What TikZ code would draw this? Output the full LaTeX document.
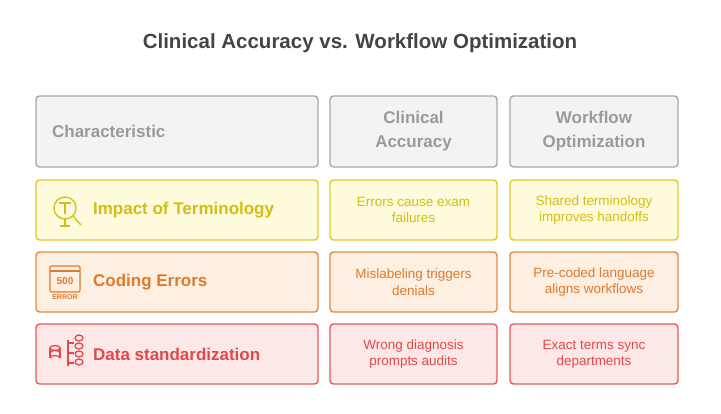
\documentclass[tikz,border=0pt]{standalone}
\usepackage{fontspec}
\setmainfont{Liberation Sans}
\usetikzlibrary{positioning}
\definecolor{hdfill}{HTML}{F3F3F3}\definecolor{hdline}{HTML}{A8A8A8}\definecolor{hdtext}{HTML}{9A9A9A}
\definecolor{yfill}{HTML}{FDFBDC}\definecolor{yline}{HTML}{DDCB2C}\definecolor{ytext}{HTML}{D4BE12}
\definecolor{ofill}{HTML}{FDEFE2}\definecolor{oline}{HTML}{E8873E}\definecolor{otext}{HTML}{E07A2C}
\definecolor{rfill}{HTML}{FDE8E8}\definecolor{rline}{HTML}{E65A5A}\definecolor{rtext}{HTML}{E04A4A}
\definecolor{titlec}{HTML}{444444}
\tikzset{
  cell/.style={draw=#1line, fill=#1fill, rounded corners=3pt, line width=1.2pt, inner sep=0pt},
  small/.style={text=#1text, font=\fontsize{11.5}{14}\selectfont, align=center},
  big/.style={text=#1text, font=\bfseries\fontsize{14.5}{17}\selectfont, anchor=west},
}
\begin{document}
\begin{tikzpicture}[x=0.03cm, y=-0.03cm]
\useasboundingbox (0,0) rectangle (721,413);
\node[font=\bfseries\fontsize{17.5}{20}\selectfont, text=titlec] (title) at (360,43) {Clinical Accuracy vs. Workflow Optimization};
% header row
\draw[cell=hd] (36,96) rectangle (318,167);
\draw[cell=hd] (330,96) rectangle (497,167);
\draw[cell=hd] (510,96) rectangle (678,167);
\node[big=hd] (hchar) at (48,131) {Characteristic};
\node[small=hd, font=\bfseries\fontsize{14.5}{20.5}\selectfont] (hclin) at (413.5,131) {Clinical\\Accuracy};
\node[small=hd, font=\bfseries\fontsize{14.5}{20.5}\selectfont] (hwork) at (594,131) {Workflow\\Optimization};
% rows
\foreach \c/\ya/\yb/\t/\u/\v in {
  y/180/240/Impact of Terminology/Errors cause exam\\failures/Shared terminology\\improves handoffs,
  o/252/312/Coding Errors/Mislabeling triggers\\denials/Pre-coded language\\aligns workflows,
  r/324/384/Data standardization/Wrong diagnosis\\prompts audits/Exact terms sync\\departments}{
  \draw[cell=\c] (36,\ya) rectangle (318,\yb);
  \draw[cell=\c] (330,\ya) rectangle (497,\yb);
  \draw[cell=\c] (510,\ya) rectangle (678,\yb);
  \node[big=\c] at (89,{(\ya+\yb)/2}) {\t};
  \node[small=\c] at (413.5,{(\ya+\yb)/2}) {\u};
  \node[small=\c] at (594,{(\ya+\yb)/2}) {\v};
}
% icons
\begin{scope}[draw=ytext, line width=1.1pt]
\draw (65,208) circle (11);
\draw (59,203) -- (71,203) (65,203) -- (65,214);
\draw (73,216) -- (81,225);
\draw (65,219) -- (65,225) (60,226) -- (70,226);
\end{scope}
\begin{scope}[draw=otext, line width=1.1pt]
\draw[rounded corners=1pt] (50,266) rectangle (80,292);
\draw (50,271) -- (80,271);
\node[text=otext, font=\bfseries\fontsize{8.5}{8}\selectfont] (i500) at (65,281) {500};
\node[text=otext, font=\bfseries\fontsize{6}{6}\selectfont] (ierr) at (65,297) {ERROR};
\end{scope}
\begin{scope}[draw=rtext, line width=1.1pt]
\draw (55,348) ellipse (5 and 2.5);
\draw (50,348) -- (50,358) (60,348) -- (60,358);
\draw (50,353) arc (180:360:5 and 2.5);
\draw (50,358) arc (180:360:5 and 2.5);
\draw (68,340) -- (68,366) (68,343) -- (74,343) (68,353) -- (74,353) (68,363) -- (74,363);
\foreach \yy in {338,346,354,362} \draw (79,\yy) ellipse (4 and 3);
\end{scope}
\end{tikzpicture}
\end{document}
